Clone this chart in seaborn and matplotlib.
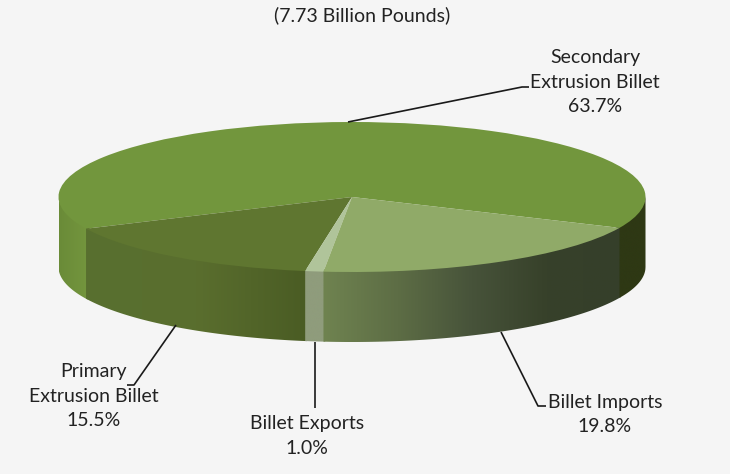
import numpy as np
import matplotlib
matplotlib.use("Agg")
import matplotlib.pyplot as plt
from matplotlib.patches import Polygon
import seaborn as sns

# Share of billet supply, percent
labels = ["Secondary\nExtrusion Billet", "Primary\nExtrusion Billet", "Billet Exports", "Billet Imports"]
shares = [63.7, 15.5, 1.0, 19.8]
subtitle = "(7.73 Billion Pounds)"

top_colors = ["#72963d", "#5f7630", "#b0c49a", "#90aa68"]
# side wall gradients, left to right, one list per visible piece of wall
wall_colors = {
    0: [["#2e3814", "#2e3814"], ["#6a8b38", "#74963e"]],
    1: [["#587030", "#5a6e2e", "#4a5c24"]],
    2: [["#8f9c7c", "#8f9c7c"]],
    3: [["#6f8350", "#5d6d45", "#47533a", "#37412a", "#353f2a"]],
}

W, H = 730, 474
CX, CY, RX, RY, DEPTH = 352, 197, 293.5, 75, 70
START = -24.3
BG = "#f5f5f5"

sns.set_theme(style="white")
plt.rcParams["font.family"] = ["Lato", "DejaVu Sans"]

fig = plt.figure(figsize=(W / 100, H / 100), dpi=100, facecolor=BG)
ax = fig.add_axes([0, 0, 1, 1])

depth = DEPTH / RY
edges = START + np.concatenate([[0], np.cumsum(shares)]) * 3.6

# side wall: only the part of each slice on the front half of the ellipse
for i in range(len(shares)):
    pieces = iter(wall_colors[i])
    for lo, hi in [(-180, 0), (180, 360)]:
        t0, t1 = max(edges[i], lo), min(edges[i + 1], hi)
        if t0 >= t1:
            continue
        x0, x1 = sorted([np.cos(np.radians(t0)), np.cos(np.radians(t1))])
        # run slightly under the next piece so no background shows between them
        x1 = min(x1 + 0.006, 1)
        xs = np.linspace(x0, x1, 200)
        ys = -np.sqrt(np.clip(1 - xs ** 2, 0, 1))
        pal = sns.blend_palette(next(pieces), 256)
        img = ax.imshow([pal], extent=(x0, x1, -1 - depth, 0.1), aspect="auto",
                        interpolation="bilinear", zorder=(x0 + 1) / 4)
        # top of the outline runs under the pie
        outline = np.vstack([np.column_stack([xs, ys + 0.03]),
                             np.column_stack([xs[::-1], ys[::-1] - depth])])
        img.set_clip_path(Polygon(outline, transform=ax.transData))

ax.pie(shares, colors=top_colors, startangle=START, counterclock=True, radius=1,
       wedgeprops={"linewidth": 0})
ax.set_aspect("auto")
ax.set_xlim(-CX / RX, (W - CX) / RX)
ax.set_ylim((CY - H) / RY, CY / RY)
ax.axis("off")

# overlay in pixel units for labels and leader lines
ov = fig.add_axes([0, 0, 1, 1])
ov.set_xlim(0, W)
ov.set_ylim(H, 0)
ov.axis("off")
ov.patch.set_alpha(0)

FS = 14
ov.text(362, 15, subtitle, ha="center", va="center", fontsize=FS, color="#222222")

label_pos = [(595, 82), (94, 396), (307, 436), (605, 414.5)]
for name, share, (x, y) in zip(labels, shares, label_pos):
    ov.text(x, y, f"{name}\n{share:.1f}%", ha="center", va="center", fontsize=FS,
            color="#222222", linespacing=1.56)

leaders = [
    ([348, 522, 529], [122, 87, 87]),
    ([176, 134, 127], [325, 385, 385]),
    ([315, 315], [342, 408]),
    ([501, 538, 546], [332, 406, 406]),
]
for xs, ys in leaders:
    ov.plot(xs, ys, color="#1a1a1a", lw=1.2, solid_capstyle="butt")

fig.savefig("out.png", dpi=100, facecolor=BG)
